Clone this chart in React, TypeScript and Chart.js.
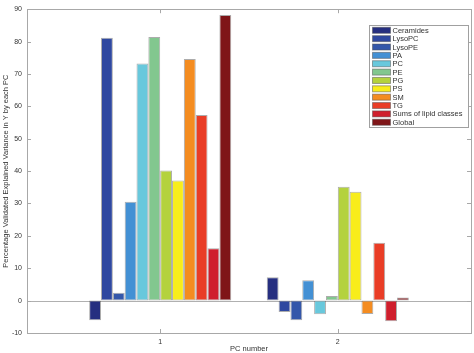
import React, { useEffect, useRef } from "react";
import { Chart, registerables } from "chart.js";

Chart.register(...registerables);

const pcNumbers = [1, 2];
const seriesNames = [
  "Ceramides",
  "LysoPC",
  "LysoPE",
  "PA",
  "PC",
  "PE",
  "PG",
  "PS",
  "SM",
  "TG",
  "Sums of lipid classes",
  "Global",
];
const pc1Values = [-6.1, 81.2, 2.4, 30.5, 73.2, 81.4, 40.2, 37.1, 74.6, 57.3, 16.2, 88.2];
const pc2Values = [7.2, -3.5, -6.1, 6.3, -4.2, 1.4, 35.2, 33.6, -4.1, 17.9, -6.4, 1.0];
const seriesColors = [
  "#262f80",
  "#2f48a0",
  "#3457aa",
  "#4390d4",
  "#68c8dc",
  "#82c78f",
  "#b4d23e",
  "#f8ed1b",
  "#f48c20",
  "#e93d26",
  "#cf1f2d",
  "#7f1518",
];
const yTicks = [-10, 0, 10, 20, 30, 40, 50, 60, 70, 80, 90];

const FONT = "'Liberation Sans', Arial, Helvetica, sans-serif";
const TEXT = "#333333";
const AXIS = "#a8a8a8";

const framePlugin = {
  id: "matlabFrame",
  beforeDatasetsDraw(chart: any) {
    const { ctx, chartArea, scales } = chart;
    const y0 = scales.y.getPixelForValue(0);
    ctx.save();
    ctx.strokeStyle = "#b0b0b0";
    ctx.lineWidth = 1;
    ctx.beginPath();
    ctx.moveTo(chartArea.left, Math.round(y0) + 0.5);
    ctx.lineTo(chartArea.right, Math.round(y0) + 0.5);
    ctx.stroke();
    ctx.restore();
  },
  afterDraw(chart: any) {
    const { ctx, chartArea, scales } = chart;
    const { left, right, top, bottom } = chartArea;
    ctx.save();
    ctx.strokeStyle = AXIS;
    ctx.lineWidth = 1;
    ctx.strokeRect(Math.round(left) + 0.5, Math.round(top) + 0.5, Math.round(right - left), Math.round(bottom - top));
    const tl = 4;
    ctx.beginPath();
    for (const v of yTicks) {
      const py = Math.round(scales.y.getPixelForValue(v)) + 0.5;
      ctx.moveTo(left, py);
      ctx.lineTo(left + tl, py);
      ctx.moveTo(right, py);
      ctx.lineTo(right - tl, py);
    }
    for (const v of pcNumbers) {
      const px = Math.round(scales.x.getPixelForValue(v)) + 0.5;
      ctx.moveTo(px, bottom);
      ctx.lineTo(px, bottom - tl);
      ctx.moveTo(px, top);
      ctx.lineTo(px, top + tl);
    }
    ctx.stroke();

    // legend
    const lx = 369;
    const ly = 25;
    const lw = 99;
    const rowH = 8.36;
    const lh = 102;
    ctx.fillStyle = "#ffffff";
    ctx.fillRect(lx, ly, lw, lh);
    ctx.strokeStyle = "#a0a0a0";
    ctx.strokeRect(lx + 0.5, ly + 0.5, lw, lh);
    ctx.font = `7.5px ${FONT}`;
    ctx.textBaseline = "middle";
    ctx.textAlign = "left";
    chart.data.datasets.forEach((ds: any, i: number) => {
      const cy = 30.3 + i * rowH;
      ctx.fillStyle = ds.backgroundColor;
      ctx.fillRect(372.5, cy - 3, 18, 6);
      ctx.strokeStyle = "rgba(80,80,80,0.5)";
      ctx.strokeRect(372.5, cy - 3, 18, 6);
      ctx.fillStyle = TEXT;
      ctx.fillText(ds.label, 392.5, cy + 0.5);
    });
    ctx.restore();
  },
};

export default function App() {
  const canvasRef = useRef<HTMLCanvasElement | null>(null);

  useEffect(() => {
    if (!canvasRef.current) return;
    const datasets = seriesNames.map((name, i) => ({
      label: name,
      data: [
        { x: pcNumbers[0], y: pc1Values[i] },
        { x: pcNumbers[1], y: pc2Values[i] },
      ],
      backgroundColor: seriesColors[i],
      borderColor: "rgba(70,70,70,0.45)",
      borderWidth: 1,
      borderSkipped: false,
      categoryPercentage: 0.8,
      barPercentage: 1.0,
    }));

    const chart = new Chart(canvasRef.current, {
      type: "bar",
      data: { datasets },
      plugins: [framePlugin],
      options: {
        animation: false,
        responsive: false,
        maintainAspectRatio: false,
        layout: { padding: { top: 5, right: 3, left: 0, bottom: 0 } },
        plugins: {
          legend: { display: false },
          tooltip: { enabled: false },
        },
        scales: {
          x: {
            type: "linear",
            offset: false,
            min: 0.25,
            max: 2.75,
            grid: { display: false, drawTicks: false },
            border: { display: false },
            afterBuildTicks: (scale: any) => {
              scale.ticks = pcNumbers.map((v) => ({ value: v }));
            },
            afterFit: (scale: any) => {
              scale.height = 20;
            },
            ticks: {
              padding: 5,
              maxRotation: 0,
              autoSkip: false,
              color: TEXT,
              font: { family: FONT, size: 7 },
              callback: (v: any) => String(v),
            },
            title: {
              display: true,
              text: "PC number",
              color: TEXT,
              padding: { top: 0, bottom: 0 },
              font: { family: FONT, size: 7.5 },
            },
          },
          y: {
            type: "linear",
            min: -10,
            max: 90,
            grid: { display: false, drawTicks: false },
            border: { display: false },
            afterBuildTicks: (scale: any) => {
              scale.ticks = yTicks.map((v) => ({ value: v }));
            },
            afterFit: (scale: any) => {
              scale.width = 27;
            },
            ticks: {
              padding: 5,
              color: TEXT,
              font: { family: FONT, size: 7 },
              callback: (v: any) => String(v),
            },
            title: {
              display: true,
              text: "Percentage Validated Explained Variance in Y by each PC",
              color: TEXT,
              padding: { top: 1, bottom: 0 },
              font: { family: FONT, size: 7.5 },
            },
          },
        },
      },
    } as any);
    return () => chart.destroy();
  }, []);

  return (
    <div style={{ position: "fixed", left: 0, top: 0, width: 474, height: 353, background: "#ffffff" }}>
      <canvas ref={canvasRef} width={474} height={353} style={{ display: "block", width: 474, height: 353 }} />
    </div>
  );
}
